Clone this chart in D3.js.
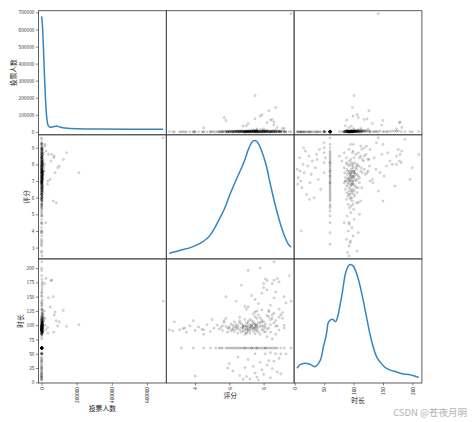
<!DOCTYPE html>
<html>
<head>
<meta charset="utf-8">
<script src="https://cdn.jsdelivr.net/npm/d3@7"></script>
<style>
  body { margin: 0; background: #fff; }
  svg text { font-family: "Noto Sans CJK SC", "DejaVu Sans", sans-serif; }
</style>
</head>
<body>
<div id="chart"></div>
<script>
// columns of the matrix
const columns = ['投票人数', '评分', '时长'];

// movies as [votes, score, duration]
const popular = [
  [692795, 9.6, 142], [213000, 7.5, 101], [143000, 8.7, 98], [124000, 8.3, 126],
  [101000, 7.9, 106], [92000, 7.8, 99], [84000, 5.7, 108], [76600, 7.5, 123],
  [72600, 8.5, 118], [69000, 8.4, 88], [67000, 5.8, 150], [57800, 8.6, 179],
  [53800, 8.2, 178], [49000, 7.1, 132], [39600, 8.6, 148], [36000, 7.0, 86],
  [33800, 6.8, 96], [25400, 8.8, 182], [23700, 4.5, 92], [21000, 9.1, 112],
  [19700, 9.2, 100], [18000, 8.0, 173], [16000, 7.6, 125]
];
const runtime60 = [
  [420, 9.6, 60], [1250, 9.2, 60], [860, 9.0, 60], [2300, 8.7, 60], [530, 8.6, 60],
  [3100, 8.5, 60], [1480, 8.4, 60], [760, 8.3, 60], [4200, 8.2, 60], [290, 8.1, 60],
  [1900, 8.0, 60], [640, 7.9, 60], [2750, 7.8, 60], [1100, 7.7, 60], [380, 7.6, 60],
  [5600, 7.5, 60], [920, 7.4, 60], [1700, 7.3, 60], [450, 7.2, 60], [2100, 7.1, 60],
  [780, 7.0, 60], [3400, 6.9, 60], [260, 6.8, 60], [1350, 6.7, 60], [690, 6.6, 60],
  [2600, 6.5, 60], [510, 6.4, 60], [1800, 6.3, 60], [340, 6.2, 60], [970, 6.1, 60],
  [1520, 6.0, 60], [430, 5.9, 60], [2200, 5.8, 60], [610, 5.6, 60], [1150, 5.5, 60],
  [280, 5.4, 60], [830, 5.2, 60], [390, 4.9, 60], [720, 4.5, 60], [250, 3.9, 60],
  [310, 3.2, 60], [1600, 7.6, 60], [2400, 8.1, 60], [870, 7.3, 60], [1300, 8.8, 60],
  [560, 6.9, 60]
];
const runtime50 = [
  [480, 9.3, 50], [1200, 9.0, 50], [650, 8.7, 50], [2100, 8.1, 50], [900, 7.5, 50], [330, 8.4, 52]
];
const mainCloud = [
  [3200, 8.9, 92], [1800, 8.6, 104], [5400, 9.0, 118], [900, 8.7, 84], [2700, 8.8, 99],
  [4100, 8.5, 112], [650, 9.2, 95], [7600, 8.6, 121], [1400, 8.5, 76], [2900, 8.9, 128],
  [11000, 8.7, 108],
  [4800, 8.3, 95], [2100, 8.1, 102], [6300, 8.0, 89], [1500, 8.4, 110], [3600, 7.9, 98],
  [8900, 8.2, 117], [950, 7.8, 84], [2500, 8.0, 106], [5100, 8.3, 124], [1700, 7.9, 92],
  [3900, 8.1, 97], [720, 8.2, 80], [12500, 7.8, 113], [2300, 8.4, 101], [4400, 8.0, 94],
  [1100, 7.9, 127], [6800, 8.1, 88], [3000, 7.8, 104], [2000, 8.3, 115], [560, 8.0, 99],
  [9600, 7.9, 109], [1300, 8.2, 93],
  [3800, 7.5, 96], [2600, 7.2, 91], [5300, 7.6, 100], [1200, 7.0, 94], [4700, 7.4, 103],
  [830, 7.7, 88], [2200, 7.3, 98], [6600, 7.1, 107], [1600, 7.5, 92], [3100, 7.0, 99],
  [7800, 7.6, 112], [990, 7.2, 86], [4000, 7.4, 95], [2800, 7.7, 105], [1400, 7.1, 90],
  [5800, 7.3, 101], [660, 7.5, 97], [3500, 7.0, 104], [2400, 7.6, 93], [1050, 7.2, 110],
  [8400, 7.4, 89], [4300, 7.1, 96], [1900, 7.7, 118], [3300, 7.3, 94], [700, 7.5, 102],
  [2900, 7.0, 87], [5000, 7.2, 100], [1500, 7.6, 97], [10500, 7.4, 106], [2000, 7.1, 92],
  [4600, 7.5, 115], [880, 7.3, 99], [3700, 7.6, 90], [1250, 7.0, 98], [6100, 7.2, 95],
  [2300, 7.4, 120], [770, 7.7, 96], [4900, 7.1, 103], [1750, 7.5, 85], [3200, 7.3, 108],
  [2700, 7.2, 97], [580, 7.0, 93], [9100, 7.6, 101], [1350, 7.4, 94],
  [2100, 6.8, 95], [3600, 6.5, 99], [1200, 6.9, 91], [4800, 6.6, 104], [760, 6.3, 97],
  [2500, 6.7, 88], [5500, 6.4, 101], [1600, 6.9, 110], [3000, 6.2, 94], [940, 6.6, 92],
  [2800, 6.8, 100], [4200, 6.5, 86], [1400, 6.3, 106], [6900, 6.7, 96], [2000, 6.4, 93],
  [630, 6.9, 98], [3400, 6.6, 114], [1800, 6.2, 100], [2600, 6.8, 90], [1100, 6.5, 95],
  [4500, 6.3, 89], [850, 6.7, 103], [3100, 6.4, 97], [1500, 6.9, 84], [2300, 6.6, 108],
  [700, 6.2, 92], [5200, 6.8, 99],
  [1300, 6.0, 94], [2400, 5.8, 98], [800, 5.6, 91], [3500, 6.1, 102], [1700, 5.5, 96],
  [560, 5.9, 88], [2900, 5.7, 105], [1000, 5.4, 93], [4100, 6.0, 97], [1500, 5.3, 100],
  [680, 5.8, 112], [2200, 6.1, 90], [920, 5.6, 99], [3300, 5.9, 95]
];
const lowTail = [
  [520, 5.1, 95], [1400, 4.9, 89], [380, 4.7, 101], [760, 4.4, 93], [290, 4.2, 97],
  [1100, 4.0, 91], [450, 3.7, 99], [330, 3.5, 88], [610, 3.3, 94], [270, 3.1, 92],
  [2500, 2.5, 92], [500, 2.8, 106], [410, 3.9, 108], [350, 4.5, 84], [880, 5.0, 110],
  [240, 2.7, 90], [300, 3.4, 95]
];
const shortFilms = [
  [310, 7.7, 4], [520, 7.2, 6], [180, 8.4, 8], [640, 7.0, 10], [260, 6.6, 12],
  [410, 8.0, 14], [150, 7.5, 16], [730, 8.8, 18], [230, 6.2, 20], [380, 7.9, 22],
  [290, 8.5, 24], [560, 6.9, 26], [200, 7.4, 28], [470, 8.2, 30], [340, 6.0, 33],
  [190, 7.8, 35], [620, 8.6, 37], [280, 7.1, 40], [450, 8.9, 42], [210, 6.5, 44],
  [360, 4.0, 11], [250, 5.9, 25], [330, 9.0, 15], [270, 7.6, 9], [800, 8.3, 38],
  [160, 6.8, 5]
];
const longFilms = [
  [690, 9.3, 139], [1500, 9.2, 150], [4300, 8.9, 176], [880, 9.5, 187], [2200, 8.6, 211],
  [1200, 7.1, 196], [3600, 8.5, 173], [1800, 8.1, 181], [2700, 8.2, 162], [950, 7.9, 156],
  [5100, 7.5, 145], [1400, 6.9, 133], [3000, 9.1, 122], [640, 8.9, 114], [2500, 7.7, 138],
  [1100, 6.4, 142], [4000, 8.0, 166], [780, 7.3, 152], [1900, 8.7, 158], [3300, 6.7, 170],
  [560, 7.8, 200], [2100, 7.0, 128], [1300, 8.4, 135]
];

// density curves on the diagonal, [value, relative density]
const votesKde = [
  [150, 1.0], [5700, 0.91], [11400, 0.70], [17100, 0.465], [22800, 0.26], [30200, 0.096],
  [39900, 0.027], [51300, 0.016], [66000, 0.021], [85500, 0.027], [104000, 0.019],
  [133000, 0.0097], [200000, 0.0035], [330000, 0.001], [500000, 0.0003], [692795, 0]
];
const scoreKde = [
  [2.5, 0], [3.1, 0.024], [3.88, 0.059], [4.46, 0.103], [4.85, 0.154], [5.14, 0.222],
  [5.44, 0.31], [5.73, 0.399], [6.02, 0.516], [6.31, 0.62], [6.61, 0.722], [6.9, 0.826],
  [7.09, 0.914], [7.29, 0.979], [7.44, 1.0], [7.58, 0.994], [7.77, 0.95], [7.97, 0.87],
  [8.17, 0.767], [8.36, 0.634], [8.65, 0.443], [8.94, 0.28], [9.23, 0.148], [9.43, 0.083],
  [9.6, 0.054]
];
const durationKde = [
  [4, 0.081], [8.5, 0.11], [17, 0.125], [25.5, 0.116], [34, 0.095], [39.6, 0.119],
  [45.4, 0.184], [48.1, 0.258], [54, 0.39], [56.6, 0.48], [60.7, 0.509], [64.1, 0.515],
  [69.2, 0.494], [73.7, 0.553], [76.5, 0.627], [81.1, 0.76], [85, 0.893], [89, 0.967],
  [94.7, 1.0], [99.2, 0.988], [105, 0.923], [110.6, 0.819], [116.2, 0.686], [121.9, 0.538],
  [127.6, 0.39], [133.2, 0.272], [139, 0.184], [144.6, 0.139], [153.1, 0.09], [161.6, 0.066],
  [173, 0.048], [184.2, 0.03], [195.6, 0.024], [211, 0]
];

// tick values
const yTicks = [
  [0, 100000, 200000, 300000, 400000, 500000, 600000, 700000],
  [3, 4, 5, 6, 7, 8, 9],
  [0, 25, 50, 75, 100, 125, 150, 175, 200]
];
const xTicks = [
  [0, 200000, 400000, 600000],
  [4, 6, 8],
  [0, 50, 100, 150, 200]
];

const movies = [].concat(popular, runtime60, runtime50, mainCloud, lowTail, shortFilms, longFilms);
const kdes = [votesKde, scoreKde, durationKde];

const W = 474, H = 422;
const gridLeft = 38.5, gridTop = 10.7, cw = 127.8, ch = 124.1;
const n = columns.length;

const svg = d3.select('#chart').append('svg')
  .attr('width', W).attr('height', H);

// pandas style range padding (5% split on both sides)
const doms = columns.map((c, i) => {
  const [a, b] = d3.extent(movies, d => d[i]);
  const pad = (b - a) * 0.025;
  return [a - pad, b + pad];
});
const xs = doms.map((dm, i) => d3.scaleLinear().domain(dm).range([gridLeft + i * cw, gridLeft + (i + 1) * cw]));
const ys = doms.map((dm, i) => d3.scaleLinear().domain(dm).range([gridTop + (i + 1) * ch, gridTop + i * ch]));

for (let r = 0; r < n; r++) {
  for (let c = 0; c < n; c++) {
    const cell = svg.append('g');
    if (r === c) {
      const kd = kdes[r];
      const [lo, hi] = d3.extent(kd, d => d[1]);
      const m = (hi - lo) * 0.05;
      const dy = d3.scaleLinear().domain([lo - m, hi + m]).range([gridTop + (r + 1) * ch, gridTop + r * ch]);
      const line = d3.line()
        .x(d => xs[c](d[0]))
        .y(d => dy(d[1]))
        .curve(d3.curveMonotoneX);
      cell.append('path')
        .attr('d', line(kd))
        .attr('fill', 'none')
        .attr('stroke', '#3585c2')
        .attr('stroke-width', 1.5);
    } else {
      cell.selectAll('circle')
        .data(movies)
        .enter()
        .append('circle')
        .attr('cx', d => xs[c](d[c]))
        .attr('cy', d => ys[r](d[r]))
        .attr('r', 1.1)
        .attr('fill', '#000')
        .attr('fill-opacity', 0.12)
        .attr('stroke', '#000')
        .attr('stroke-opacity', 0.27)
        .attr('stroke-width', 0.45);
    }
    cell.append('rect')
      .attr('x', gridLeft + c * cw).attr('y', gridTop + r * ch)
      .attr('width', cw).attr('height', ch)
      .attr('fill', 'none')
      .attr('stroke', '#444')
      .attr('stroke-width', 0.85);
  }
}

// left axes
for (let r = 0; r < n; r++) {
  const ax = svg.append('g')
    .attr('transform', 'translate(' + gridLeft + ',0)')
    .call(d3.axisLeft(ys[r]).tickValues(yTicks[r]).tickFormat(d => d).tickSize(2.5).tickPadding(1.5));
  ax.select('.domain').remove();
  ax.selectAll('line').attr('stroke', '#333').attr('stroke-width', 0.6);
  ax.selectAll('text').attr('font-size', 4.8).attr('fill', '#333')
    .attr('font-family', '"DejaVu Sans", sans-serif');
  const bb = ax.node().getBBox();
  const cy = gridTop + (r + 0.5) * ch;
  const lx = gridLeft + bb.x - 2 - 3.4;
  svg.append('text')
    .attr('transform', 'translate(' + lx + ',' + cy + ') rotate(-90)')
    .attr('text-anchor', 'middle')
    .attr('dy', '0.35em')
    .attr('font-size', 6.8)
    .attr('fill', '#222')
    .text(columns[r]);
}

// bottom axes
const gridBottom = gridTop + n * ch;
for (let c = 0; c < n; c++) {
  const ax = svg.append('g')
    .attr('transform', 'translate(0,' + gridBottom + ')')
    .call(d3.axisBottom(xs[c]).tickValues(xTicks[c]).tickFormat(d => d).tickSize(2.5).tickPadding(1.5));
  ax.select('.domain').remove();
  ax.selectAll('line').attr('stroke', '#333').attr('stroke-width', 0.6);
  ax.selectAll('text')
    .attr('font-size', 4.8).attr('fill', '#333')
    .attr('font-family', '"DejaVu Sans", sans-serif')
    .attr('transform', 'rotate(-90)')
    .attr('text-anchor', 'end')
    .attr('x', -4).attr('y', 0).attr('dy', '0.35em');
  const bb = ax.node().getBBox();
  svg.append('text')
    .attr('x', gridLeft + (c + 0.5) * cw)
    .attr('y', gridBottom + bb.y + bb.height + 2 + 6)
    .attr('text-anchor', 'middle')
    .attr('font-size', 6.8)
    .attr('fill', '#222')
    .text(columns[c]);
}

// watermark
svg.append('text')
  .attr('x', 467).attr('y', 415.5)
  .attr('text-anchor', 'end')
  .attr('font-size', 9.5)
  .attr('fill', '#b4b4b4')
  .text('CSDN @苍夜月明');
</script>
</body>
</html>
